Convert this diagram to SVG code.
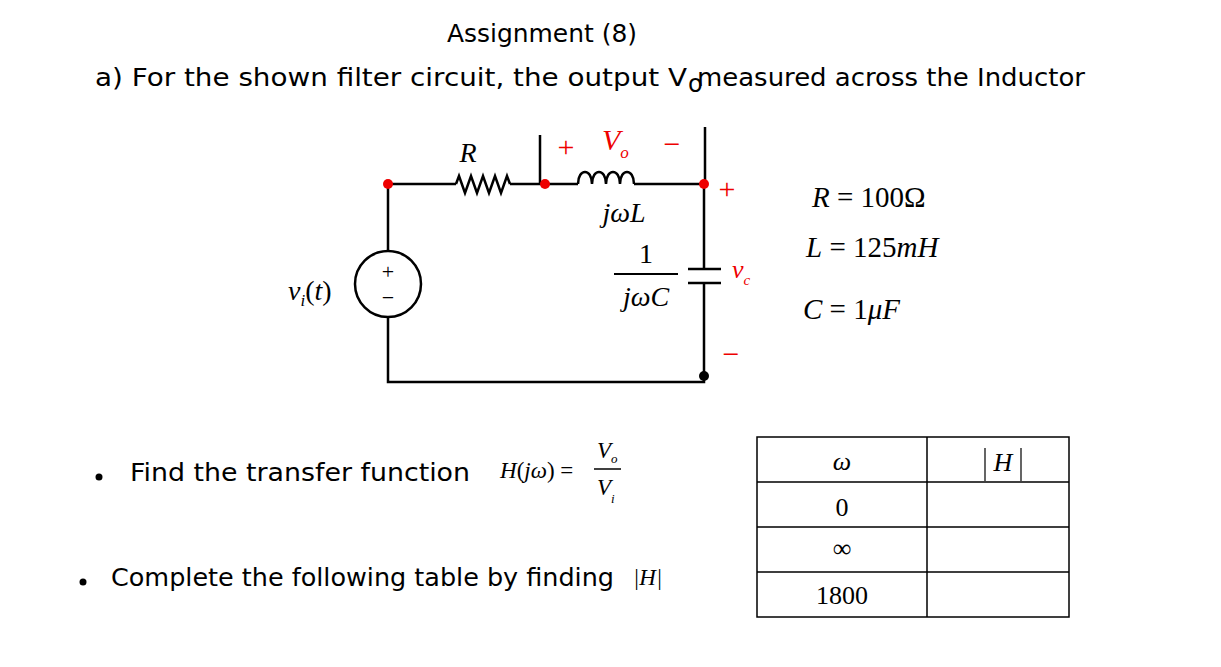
<svg xmlns="http://www.w3.org/2000/svg" width="1221" height="667" viewBox="0 0 1221 667">
<style>
.t{font-family:"DejaVu Sans","Liberation Sans",sans-serif;font-size:24px;fill:#000}
.m{font-family:"Liberation Serif",serif;font-style:italic;fill:#000}
.n{font-family:"Liberation Serif",serif;font-style:normal;fill:#000}
.r{fill:#e00}
.w{stroke:#000;stroke-width:2.5;fill:none}
</style>
<rect width="1221" height="667" fill="#fff"/>
<text class="t" x="447" y="42" textLength="190" lengthAdjust="spacingAndGlyphs">Assignment (8)</text>
<text class="t" x="95" y="86" textLength="592" lengthAdjust="spacingAndGlyphs">a) For the shown  filter circuit, the output V</text>
<text class="t" x="688" y="92" font-size="15">o</text>
<text class="t" x="697" y="86" textLength="388" lengthAdjust="spacingAndGlyphs">measured across the Inductor</text>
<g id="connectors">
<path class="w" d="M388,184 H456 M510,184 H578 M634,184 H704 V269 M704,283 V382 H388 V317 M388,251 V184"/>
<path class="w" d="M540,135 V184 M705,127 V184"/>
</g>
<g id="resistor"><path class="w" d="M456,184 L459,176 L465,193 L471,176 L477,193 L483,176 L489,193 L495,176 L501,193 L507,176 L510,184"/>
<text class="m" x="468" y="162" font-size="28" text-anchor="middle">R</text></g>
<g id="inductor"><path class="w" d="M578,184 C578,168 592,168 592,184 C592,168 606,168 606,184 C606,168 620,168 620,184 C620,168 634,168 634,184"/>
<text class="m" x="624" y="222" font-size="28" text-anchor="middle">jωL</text></g>
<g id="capacitor"><path class="w" d="M688,269 H721 M688,283 H721"/>
<text class="n" x="646" y="263" font-size="28" text-anchor="middle">1</text>
<line x1="614" y1="274" x2="678" y2="274" stroke="#000" stroke-width="2"/>
<text class="m" x="646" y="306" font-size="28" text-anchor="middle">jωC</text></g>
<g id="source"><circle cx="388" cy="284" r="33" fill="#fff" stroke="#000" stroke-width="2.5"/>
<text class="n" x="388" y="279" font-size="22" text-anchor="middle">+</text>
<text class="n" x="388" y="305" font-size="22" text-anchor="middle">−</text>
<text class="m" x="288" y="300" font-size="28">v<tspan font-size="17" dy="6">i</tspan><tspan class="n" dy="-6">(</tspan>t<tspan class="n">)</tspan></text></g>
<g id="nodes">
<circle cx="388" cy="184" r="5" fill="#e00"/><circle cx="545" cy="184" r="5" fill="#e00"/>
<circle cx="704" cy="184" r="5" fill="#e00"/><circle cx="704" cy="376" r="5" fill="#000"/>
</g>
<g id="labels">
<text class="n r" x="566" y="157" font-size="30" text-anchor="middle">+</text>
<text class="m r" x="602" y="150" font-size="30">V<tspan font-size="17" dy="8">o</tspan></text>
<text class="n r" x="672" y="154" font-size="30" text-anchor="middle">−</text>
<text class="n r" x="727" y="199" font-size="30" text-anchor="middle">+</text>
<text class="m r" x="732" y="278" font-size="26">v<tspan font-size="15" dy="7">c</tspan></text>
<text class="n r" x="731" y="364" font-size="30" text-anchor="middle">−</text>
</g>
<g id="values">
<text class="m" x="812" y="207" font-size="29">R<tspan class="n"> = 100Ω</tspan></text>
<text class="m" x="806" y="257" font-size="29">L<tspan class="n"> = 125</tspan>mH</text>
<text class="m" x="803" y="319" font-size="29">C<tspan class="n"> = 1</tspan>μF</text>
</g>
<circle cx="99" cy="477" r="3.5" fill="#000"/>
<text class="t" x="130" y="481" textLength="340" lengthAdjust="spacingAndGlyphs">Find the transfer function</text>
<text class="m" x="500" y="478" font-size="23">H<tspan class="n">(</tspan>jω<tspan class="n">) =</tspan></text>
<text class="m" x="597" y="458" font-size="23">V<tspan font-size="13" dy="5">o</tspan></text>
<line x1="594" y1="469" x2="621" y2="469" stroke="#000" stroke-width="1.5"/>
<text class="m" x="597" y="495" font-size="23">V<tspan font-size="13" dy="8">i</tspan></text>
<circle cx="83" cy="582" r="3.5" fill="#000"/>
<text class="t" x="111" y="586" textLength="503" lengthAdjust="spacingAndGlyphs">Complete the following table by finding</text>
<text class="m" x="633" y="585" font-size="23">|H|</text>
<g id="table" stroke="#000" stroke-width="1.5" fill="none">
<rect x="757" y="437" width="312" height="180"/>
<path d="M757,482 H1069 M757,527 H1069 M757,572 H1069 M927,437 V617"/>
</g>
<g id="table-text" text-anchor="middle">
<text class="m" x="842" y="470" font-size="26">ω</text>
<text class="m" x="1003" y="471" font-size="26">H</text>
<path d="M985,448 V481 M1021,448 V481" stroke="#000" stroke-width="1.2"/>
<text class="n" x="842" y="516" font-size="26">0</text>
<text class="n" x="842" y="557" font-size="26">∞</text>
<text class="n" x="842" y="604" font-size="26">1800</text>
</g>
</svg>
